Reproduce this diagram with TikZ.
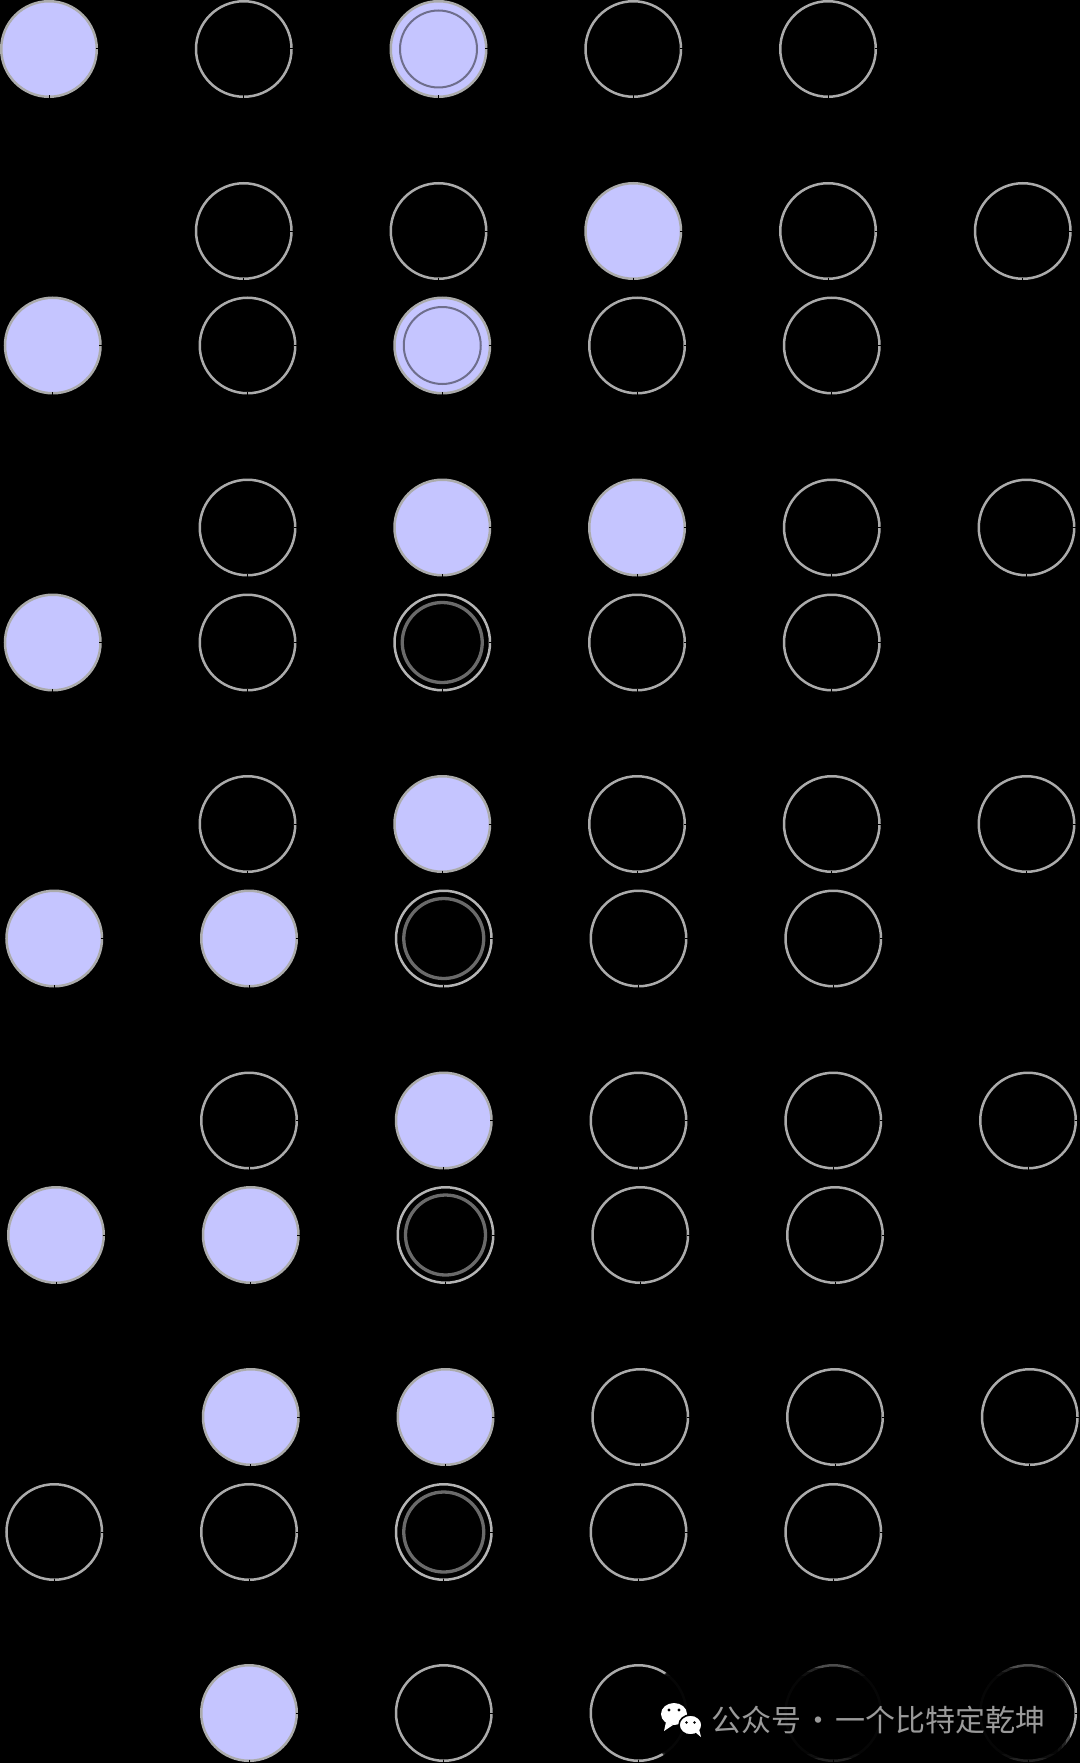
\documentclass[tikz,border=0pt]{standalone}
\usepackage{fontspec}
\newfontfamily\cjk{Noto Sans CJK SC}
\definecolor{lav}{HTML}{C5C5FF}
\definecolor{edgegray}{HTML}{ABABAB}
\definecolor{ringblue}{HTML}{6E6E8C}
\definecolor{ringdark}{HTML}{6A6A6A}
\definecolor{outergray}{HTML}{B4B4B4}
\definecolor{wmgray}{HTML}{9A9A9A}
\tikzset{
  basecirc/.style={circle, inner sep=0pt, minimum size=95.5pt, line width=2.5pt, draw=edgegray},
  full/.style={basecirc, fill=lav},
  empty/.style={basecirc},
  ringed/.style={basecirc, fill=lav},
  dbl/.style={basecirc, draw=outergray},
  anchortick/.style={black, line width=1pt},
  innerring/.style={ringblue, line width=2pt},
  darkring/.style={ringdark, line width=3.3pt},
  glow/.style={fill=black, fill opacity=0.55, rounded corners=18pt},
  wmtext/.style={text=wmgray, font=\cjk\fontsize{30}{30}\selectfont, inner sep=0pt, anchor=west}
}
\newcommand\circrow[4]{%
  \foreach \c/\t in {#4} {%
    \node[\t] (#1\c) at ({#2+(\c-1)*194.75},#3) {};
    \draw[anchortick] ([xshift=-2.5pt]#1\c.east) -- ([xshift=1pt]#1\c.east);
    \draw[anchortick] ([yshift=2.5pt]#1\c.south) -- ([yshift=-1pt]#1\c.south);
  }%
}
\begin{document}
\begin{tikzpicture}[x=1pt,y=-1pt]
\fill[black] (0,0) rectangle (1080,1763);
\useasboundingbox (0,0) rectangle (1080,1763);
% group 1
\circrow{A}{49}{49}{1/full,2/empty,3/ringed,4/empty,5/empty}
\circrow{B}{49}{231}{2/empty,3/empty,4/full,5/empty,6/empty}
% group 2
\circrow{C}{52.75}{345.5}{1/full,2/empty,3/ringed,4/empty,5/empty}
\circrow{D}{52.75}{527.5}{2/empty,3/full,4/full,5/empty,6/empty}
\circrow{E}{52.75}{642.5}{1/full,2/empty,3/dbl,4/empty,5/empty}
\circrow{F}{52.75}{824}{2/empty,3/full,4/empty,5/empty,6/empty}
% group 3
\circrow{G}{54.25}{938.5}{1/full,2/full,3/dbl,4/empty,5/empty}
\circrow{H}{54.25}{1120.5}{2/empty,3/full,4/empty,5/empty,6/empty}
% group 4
\circrow{I}{56}{1235}{1/full,2/full,3/dbl,4/empty,5/empty}
\circrow{J}{56}{1417}{2/full,3/full,4/empty,5/empty,6/empty}
% group 5
\circrow{K}{54.25}{1532}{1/empty,2/empty,3/dbl,4/empty,5/empty}
\circrow{L}{54.25}{1713}{2/full,3/empty,4/empty,5/empty,6/empty}
% inner rings
\draw[innerring] (A3.center) circle[radius=38.5pt];
\draw[innerring] (C3.center) circle[radius=38.5pt];
\foreach \n in {E3,G3,I3,K3} \draw[darkring] (\n.center) circle[radius=40pt];
% watermark glow
\coordinate (gtl) at (652,1676);
\coordinate (gbr) at (1070,1754);
\fill[glow] (gtl) rectangle (gbr);
\fill[glow] ([shift={(4,-4)}]gtl) rectangle ([shift={(-4,4)}]gbr);
\fill[glow] ([shift={(8,-8)}]gtl) rectangle ([shift={(-8,8)}]gbr);
\fill[glow] ([shift={(12,-12)}]gtl) rectangle ([shift={(-12,12)}]gbr);
% wechat icon
\fill[white] (674,1714) ellipse [x radius=13pt, y radius=11pt];
\fill[white] (666,1722) -- (664,1731) -- (673,1725) -- cycle;
\fill[black] (669,1710) circle[radius=1.7pt];
\fill[black] (679,1710) circle[radius=1.7pt];
\filldraw[white, draw=black, line width=1.6pt] (690.5,1725) ellipse [x radius=11.5pt, y radius=10pt];
\fill[white] (695,1732) -- (701,1737) -- (699,1729) -- cycle;
\fill[black] (686.5,1722.5) circle[radius=1.4pt];
\fill[black] (694.5,1722.5) circle[radius=1.4pt];
\node[wmtext] (wm) at (711,1720) {公众号\hspace{2pt}·\hspace{2pt}一个比特定乾坤};
\end{tikzpicture}
\end{document}
